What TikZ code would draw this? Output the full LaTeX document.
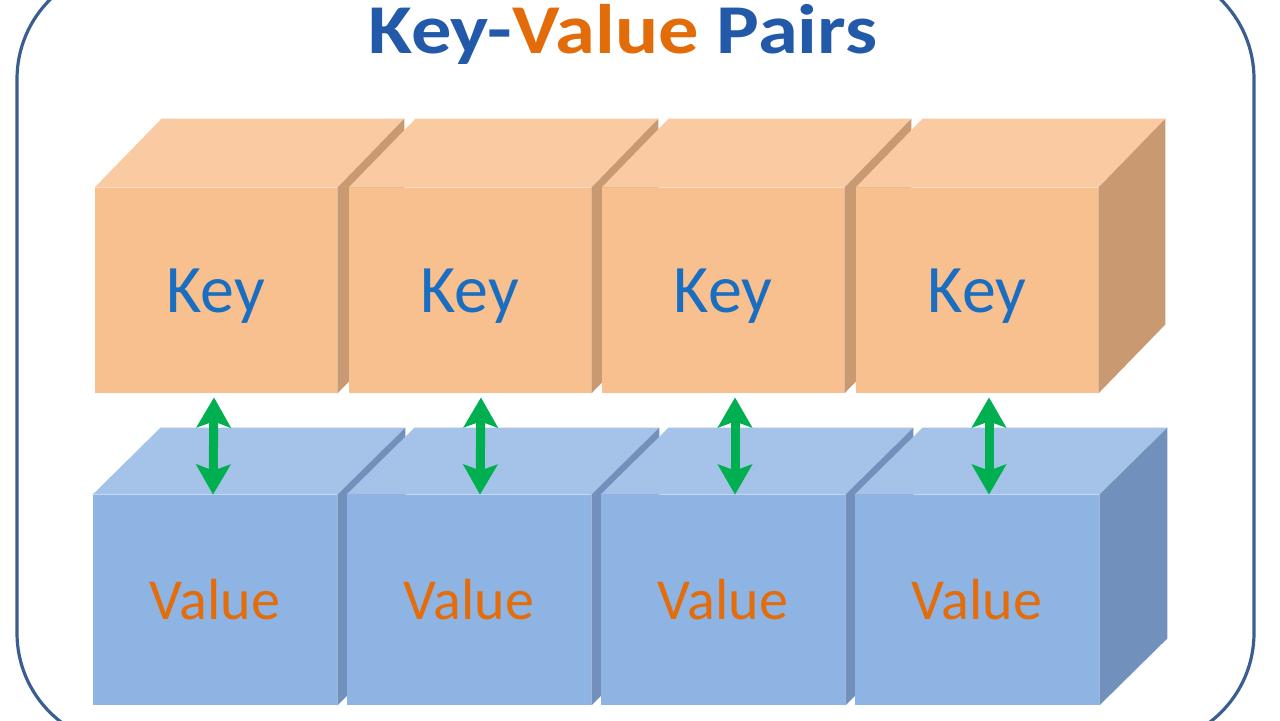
\documentclass[tikz,border=0pt]{standalone}
\usepackage{fontspec}
\setmainfont{Carlito}
\usetikzlibrary{arrows.meta,calc}
\definecolor{frameblue}{HTML}{3B5E92}
\definecolor{titleblue}{HTML}{2259A8}
\definecolor{titleorange}{HTML}{E36C0A}
\definecolor{keyfront}{HTML}{F9C08F}
\definecolor{keytop}{HTML}{FACAA2}
\definecolor{keyside}{HTML}{C99A72}
\definecolor{keytext}{HTML}{1A6EC2}
\definecolor{valfront}{HTML}{8DB4E2}
\definecolor{valtop}{HTML}{A5C2E8}
\definecolor{valside}{HTML}{7191BC}
\definecolor{valtext}{HTML}{E46C0A}
\definecolor{pairgreen}{HTML}{00B050}

\begin{document}
\begin{tikzpicture}[x=0.5pt,y=-0.5pt,
  keyface/.style={fill=keyfront, minimum width=121pt, minimum height=102.5pt, inner sep=0pt, text depth=0pt, text=keytext, font=\fontsize{34}{34}\selectfont},
  valface/.style={fill=valfront, minimum width=122pt, minimum height=105pt, inner sep=0pt, text=valtext, font=\fontsize{29}{29}\selectfont},
  pairarrow/.style={draw=pairgreen, line width=4.5pt, {Stealth[length=15pt,width=17pt,inset=3pt]}-{Stealth[length=15pt,width=17pt,inset=3pt]}}]
\useasboundingbox (0,0) rectangle (1280,720);
\fill[white] (0,0) rectangle (1280,720);
% Frame
\begin{scope}
\clip (0,0) rectangle (1280,720);
\draw[frameblue, line width=1.6pt, rounded corners=56pt] (17,-33) rectangle (1254,745);
\end{scope}
% Title
\node[anchor=base, font=\fontsize{35}{35}\selectfont\bfseries] (title) at (623,53) {\scalebox{1.15}[1]{\color{titleblue}Key-\color{titleorange}Value \color{titleblue}Pairs}};
% Keys
\foreach \i/\x in {1/216,2/470,3/723,4/977} {
  \node[keyface] (k\i) at (\x,290.5) {Key};
  \fill[keytop] (k\i.north west) -- ++(67,-69) -- ($(k\i.north east)+(67,-69)$) -- (k\i.north east) -- cycle;
  \fill[keyside] (k\i.north east) -- ++(67,-69) -- ($(k\i.south east)+(67,-69)$) -- (k\i.south east) -- cycle;
}
% Values
\foreach \i/\x in {1/215,2/469,3/723,4/977} {
  \node[valface] (v\i) at (\x,600) {Value};
  \fill[valtop] (v\i.north west) -- ++(68,-67) -- ($(v\i.north east)+(68,-67)$) -- (v\i.north east) -- cycle;
  \fill[valside] (v\i.north east) -- ++(68,-67) -- ($(v\i.south east)+(68,-67)$) -- (v\i.south east) -- cycle;
}
% Pairs
\foreach \i/\dx in {1/-1,2/5.5,3/6,4/6}
  \draw[pairarrow] ([xshift=\dx pt, yshift=-2pt]k\i.south) -- ([xshift=\dx pt]v\i.north);
\end{tikzpicture}
\end{document}
